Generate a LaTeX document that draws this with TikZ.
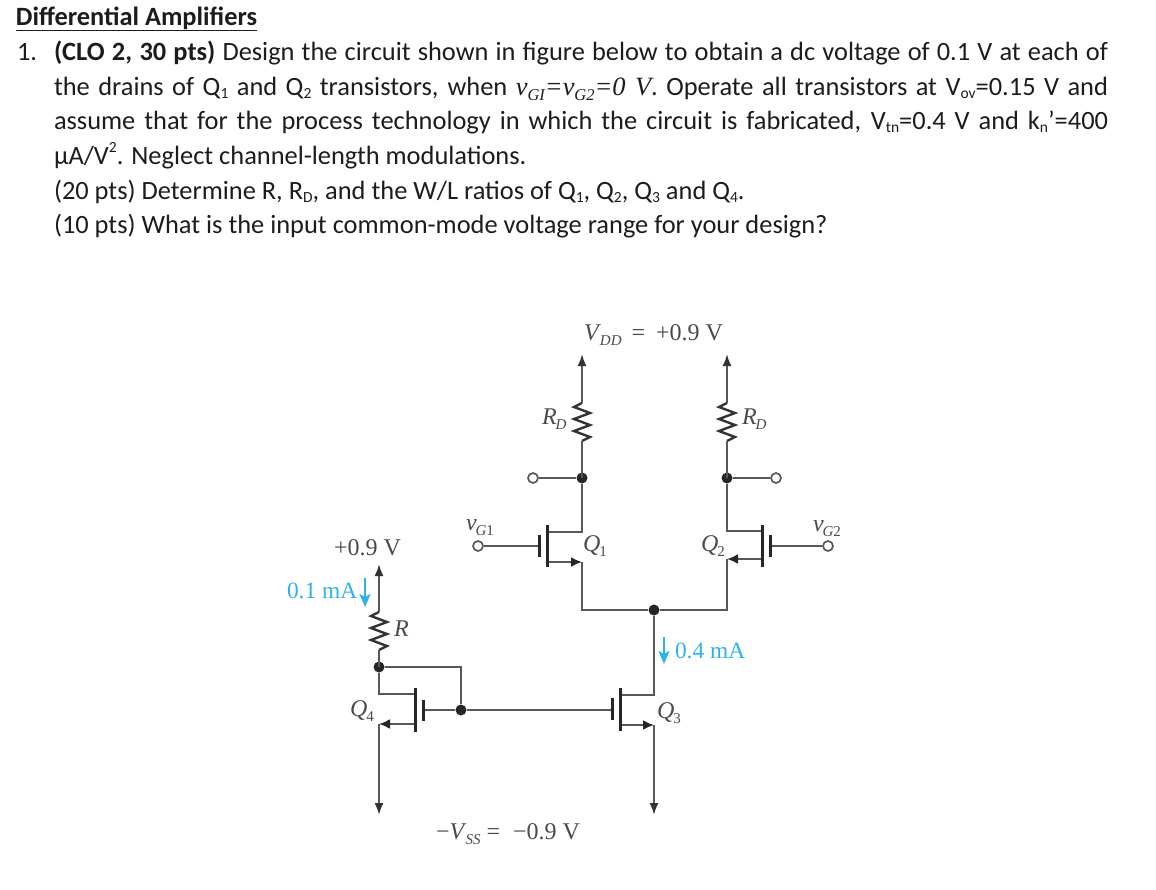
\documentclass[tikz,border=0pt]{standalone}
\usepackage{fontspec}
\usetikzlibrary{arrows.meta}
\setmainfont{Carlito}
\newfontfamily\tms{Liberation Serif}
\definecolor{txt}{HTML}{1C1C1C}
\definecolor{wire}{HTML}{55595C}
\definecolor{lab}{HTML}{4A4A4A}
\definecolor{cur}{HTML}{2FB2EC}
\newcommand{\low}[1]{\raisebox{-0.12em}{\fontsize{15.5}{15.5}\selectfont #1}}
\newcommand{\lowt}[1]{\kern-1pt\raisebox{-0.22em}{\fontsize{15}{15}\selectfont #1}}
\newcommand{\lowi}[1]{\raisebox{-0.2em}{\fontsize{16.5}{16.5}\selectfont #1}}
\newcommand{\jline}[1]{\makebox[1054pt][s]{#1}}
\tikzset{
  x=1pt,y=-1pt,
  para/.style={anchor=base west,inner sep=0pt,outer sep=0pt,text=txt,font=\fontsize{26.4}{28}\selectfont},
  lbl/.style={anchor=base west,inner sep=0pt,outer sep=0pt,text=lab,font=\tms\fontsize{24}{26}\selectfont},
  curlbl/.style={lbl,text=cur,font=\tms\fontsize{23.4}{26}\selectfont},
  conn/.style={draw=wire,line width=2pt,line join=miter},
  rail/.style={conn,-{Latex[length=12pt,width=9pt,color=black!80]}},
  srcarrow/.style={draw=wire,line width=2pt,-{Latex[length=11pt,width=10pt,color=black!85]}},
  resist/.style={draw=black!80,line width=2.4pt,line join=miter},
  chan/.style={draw=black!85,line width=3pt},
  plate/.style={draw=black!85,line width=3pt},
  curarrow/.style={draw=cur,line width=2.2pt,-{Stealth[length=13pt,width=11pt,inset=3pt]}},
  dot/.style={circle,fill=black!85,draw=none,minimum size=11pt,inner sep=0pt},
  term/.style={circle,fill=white,draw=wire,line width=1.7pt,minimum size=10pt,inner sep=0pt},
}
\newcommand{\zz}{-- ++(-8,4) -- ++(16,6) -- ++(-16,6) -- ++(16,6) -- ++(-16,6) -- ++(16,6) -- ++(-8,4)}
\begin{document}
\begin{tikzpicture}
\useasboundingbox (0,0) rectangle (1156,889);
% ---- text block
\node[para,font=\fontsize{26.4}{28}\selectfont\bfseries] (title) at (16,25) {\underline{Differential Amplifiers}};
\node[para] (num) at (17,60) {1.};
\node[para] (l1) at (54,60) {\jline{\textbf{(CLO 2, 30 pts)} Design the circuit shown in figure below to obtain a dc voltage of 0.1 V at each of}};
\node[para] (l2) at (54,95) {\jline{the drains of Q\low{1} and Q\low{2} transistors, when {\tms\itshape v\lowi{GI}=v\lowi{G2}=0 V}. Operate all transistors at V\low{ov}=0.15 V and}};
\node[para] (l3) at (54,129) {\jline{assume that for the process technology in which the circuit is fabricated, V\low{tn}=0.4 V and k\low{n}’=400}};
\node[para] (l4) at (54,164) {µA/V\raisebox{0.45em}{\fontsize{15.5}{15.5}\selectfont 2}. Neglect channel-length modulations.};
\node[para] (l5) at (54,199) {(20 pts) Determine R, R\low{D}, and the W/L ratios of Q\low{1}, Q\low{2}, Q\low{3} and Q\low{4}.};
\node[para] (l6) at (54,233) {(10 pts) What is the input common-mode voltage range for your design?};
% ---- coordinates
\coordinate (vddL) at (582,354);
\coordinate (vddR) at (727,354);
\coordinate (rLt) at (582,403);
\coordinate (rLb) at (582,441);
\coordinate (rRt) at (727,403);
\coordinate (rRb) at (727,441);
\coordinate (q1d) at (582,532);
\coordinate (q1dc) at (547,532);
\coordinate (q1s) at (582,562);
\coordinate (q1sc) at (547,562);
\coordinate (q1p) at (539,546);
\coordinate (q2d) at (727,531);
\coordinate (q2dc) at (762,531);
\coordinate (q2s) at (727,559);
\coordinate (q2sc) at (762,559);
\coordinate (q2p) at (770,546);
\coordinate (tailL) at (582,610);
\coordinate (tailR) at (727,610);
\coordinate (q3d) at (654,695);
\coordinate (q3dc) at (620,695);
\coordinate (q3s) at (654,725);
\coordinate (q3sc) at (620,725);
\coordinate (q3p) at (612,710);
\coordinate (vssR) at (654,815);
\coordinate (vddQ4) at (379,564);
\coordinate (rt) at (379,612);
\coordinate (rb) at (379,650);
\coordinate (q4d) at (379,694);
\coordinate (q4dc) at (415,694);
\coordinate (q4s) at (379,724);
\coordinate (q4sc) at (415,724);
\coordinate (q4p) at (423,710);
\coordinate (vssL) at (379,815);
\coordinate (tieC) at (461,667);
% ---- junctions and terminals
\node[dot] (nL) at (582,478) {};
\node[dot] (nR) at (727,478) {};
\node[dot] (nT) at (654,610) {};
\node[dot] (nR4) at (379,667) {};
\node[dot] (nG) at (461,710) {};
\node[term] (oL) at (533,478) {};
\node[term] (oR) at (776,478) {};
\node[term] (g1) at (478,546) {};
\node[term] (g2) at (828,546) {};
% ---- wires
\draw[rail] (rLt) -- (vddL);
\draw[rail] (rRt) -- (vddR);
\draw[rail] (rt) -- (vddQ4);
\draw[resist] (rLt) \zz;
\draw[resist] (rRt) \zz;
\draw[resist] (rt) \zz;
\draw[conn] (rLb) -- (nL.center);
\draw[conn] (rRb) -- (nR.center);
\draw[conn] (rb) -- (nR4.center);
\draw[conn] (oL) -- (nL);
\draw[conn] (oR) -- (nR);
\draw[conn] (nL) -- (q1d) -- (q1dc);
\draw[conn] (nR) -- (q2d) -- (q2dc);
\draw[conn] (q1s) -- (tailL) -- (nT);
\draw[conn] (q2s) -- (tailR) -- (nT);
\draw[conn] (nT) -- (q3d) -- (q3dc);
\draw[conn] (nR4) -- (q4d) -- (q4dc);
\draw[conn] (nR4) -- (tieC) -- (nG);
\draw[conn] (g1) -- (q1p);
\draw[conn] (g2) -- (q2p);
\draw[conn] (nG) -- (q3p);
\draw[conn] (nG) -- (q4p);
\draw[rail] (q3s) -- (vssR);
\draw[rail] (q4s) -- (vssL);
\draw[srcarrow] (q1sc) -- (q1s);
\draw[srcarrow] (q2sc) -- (q2s);
\draw[srcarrow] (q3sc) -- (q3s);
\draw[srcarrow] (q4sc) -- (q4s);
% ---- MOS gates
\draw[chan] (547,525) -- (547,567);
\draw[plate] (539,535) -- (539,557);
\draw[chan] (762,525) -- (762,567);
\draw[plate] (770,535) -- (770,557);
\draw[chan] (620,688) -- (620,731);
\draw[plate] (612,698) -- (612,720);
\draw[chan] (415,688) -- (415,732);
\draw[plate] (423,700) -- (423,721);
% ---- current arrows
\coordinate (c1a) at (365,578); \coordinate (c1b) at (365,607);
\coordinate (c2a) at (664,637); \coordinate (c2b) at (664,664);
\draw[curarrow] (c1a) -- (c1b);
\draw[curarrow] (c2a) -- (c2b);
% ---- labels
\node[lbl] (lvdd) at (584,340) {\textit{V}\lowt{\textit{DD}}\kern10pt = \kern5pt+0.9 V};
\node[lbl] (lp) at (334,555) {+0.9 V};
\node[curlbl] (li1) at (287,598) {0.1 mA};
\node[curlbl] (li2) at (675,658) {0.4 mA};
\node[lbl] (lrd1) at (542,424) {\textit{R}\lowt{\textit{D}}};
\node[lbl] (lrd2) at (742,424) {\textit{R}\lowt{\textit{D}}};
\node[lbl] (lr) at (394,636) {\textit{R}};
\node[lbl] (lq1) at (583,551) {\textit{Q}\lowt{1}};
\node[lbl] (lq2) at (701,551) {\textit{Q}\lowt{2}};
\node[lbl] (lq3) at (657,718) {\textit{Q}\lowt{3}};
\node[lbl] (lq4) at (350,716) {\textit{Q}\lowt{4}};
\node[lbl] (lg1) at (466,530) {\textit{v}\lowt{\textit{G}1}};
\node[lbl] (lg2) at (813,531) {\textit{v}\lowt{\textit{G}2}};
\node[lbl] (lvss) at (436,839) {−\textit{V}\lowt{\textit{SS}}\kern6pt = \kern7pt−0.9 V};
\end{tikzpicture}
\end{document}
